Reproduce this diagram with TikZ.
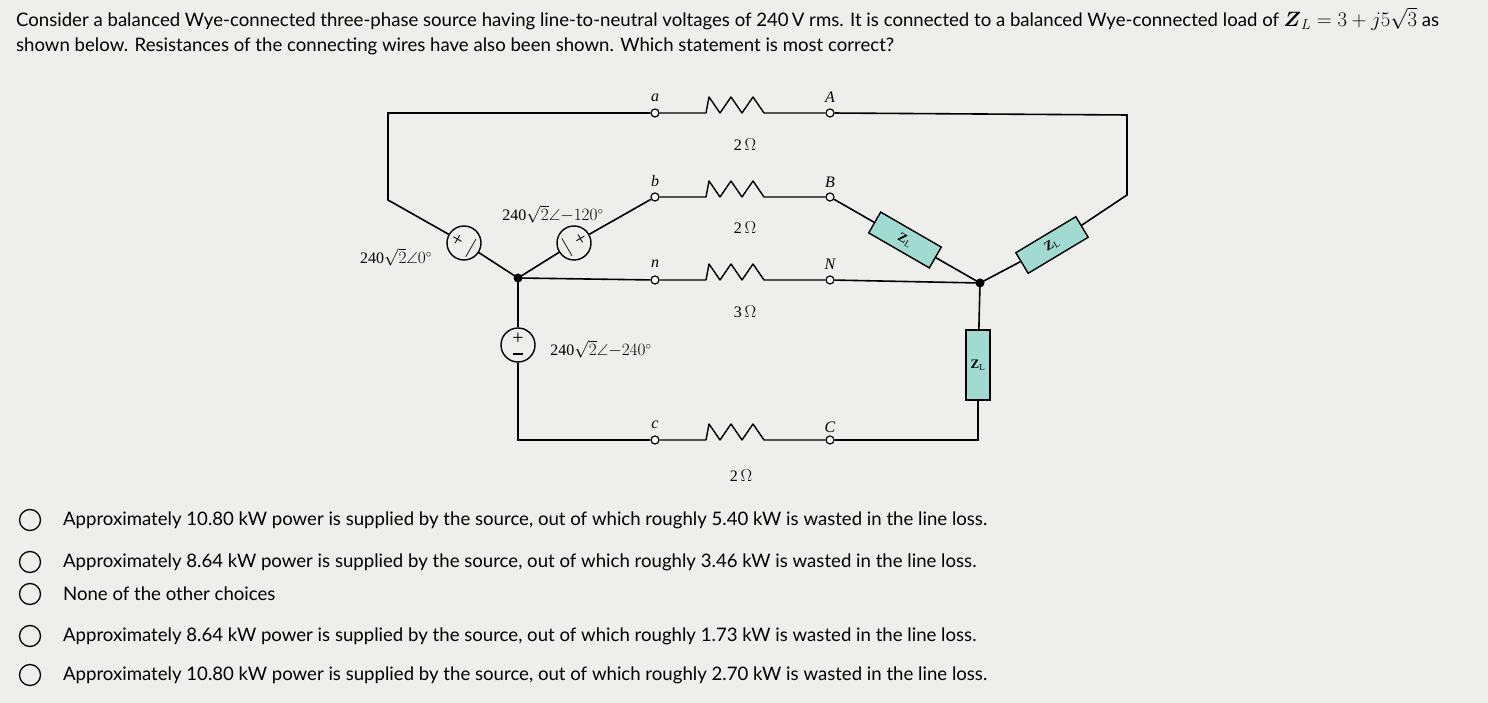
\documentclass[tikz,border=0pt]{standalone}
\usepackage{amsmath,amssymb}
\usepackage{fontspec}
\setmainfont{Liberation Serif}
\newfontfamily\qfont{Lato}
\usetikzlibrary{calc}
\definecolor{bg}{RGB}{238,238,236}
\definecolor{zfill}{RGB}{160,218,208}
\begin{document}
\begin{tikzpicture}[x=1pt,y=1pt,line width=1.6pt,
  term/.style={circle,draw,fill=white,inner sep=0pt,minimum size=8pt,line width=1.2pt},
  src/.style={circle,draw,minimum size=34pt,inner sep=0pt,line width=1.4pt},
  zbox/.style={draw,fill=zfill,minimum width=70pt,minimum height=24pt,inner sep=0pt,line width=1.4pt,font=\fontsize{13}{13}\selectfont\bfseries},
  lab/.style={font=\fontsize{16}{16}\selectfont},
  tl/.style={font=\fontsize{16}{16}\selectfont\itshape},
  sg/.style={font=\fontsize{20}{20}\selectfont,inner sep=0pt},
  q/.style={anchor=west,font=\qfont\fontsize{18.6}{20}\selectfont},
  opt/.style={circle,draw,minimum size=21pt,inner sep=0pt,line width=1.3pt}]
\fill[bg] (0,0) rectangle (1488,703);
\useasboundingbox (0,0) rectangle (1488,703);
% question text
\node[q] (q1) at (12,684) {Consider a balanced Wye-connected three-phase source having line-to-neutral voltages of 240\,V rms. It is connected to a balanced Wye-connected load of {\fontsize{21}{21}\selectfont$\boldsymbol{Z}_L=3+j5\sqrt{3}$} as};
\node[q] (q2) at (12,657) {shown below. Resistances of the connecting wires have also been shown. Which statement is most correct?};
% nodes
\coordinate (S) at (518,425);
\coordinate (TL) at (388,590);
\coordinate (TL2) at (388,503);
\coordinate (TR) at (1127,588);
\coordinate (TR2) at (1127,508);
\coordinate (L) at (980,420);
\coordinate (CL) at (518,263);
\coordinate (CR) at (978,263);
\node[src] (sa) at (464,460) {};
\node[src] (sb) at (574,460) {};
\node[src] (sc) at (518,358) {};
\node[sg,rotate=-30] at ($(sa)+(-7,3)$) {+};
\node[sg,rotate=-30] at ($(sa)+(7,-5)$) {$|$};
\node[sg,rotate=30] at ($(sb)+(7,3)$) {+};
\node[sg,rotate=30] at ($(sb)+(-7,-5)$) {$|$};
\node[sg] at ($(sc)+(0,6)$) {+};
\draw[line width=1.2pt] ($(sc)+(-5,-9)$) -- ($(sc)+(5,-9)$);
\node[term] (a) at (655,590) {};
\node[term] (A) at (830,590) {};
\node[term] (b) at (655,506) {};
\node[term] (B) at (830,506) {};
\node[term] (n) at (655,423) {};
\node[term] (N) at (830,423) {};
\node[term] (c) at (655,263) {};
\node[term] (C) at (830,263) {};
\node[zbox,rotate=31] (za) at (1052,458) {Z$_{\rm L}$};
\node[zbox,rotate=-30] (zb) at (905,463) {Z$_{\rm L}$};
\node[zbox,minimum width=24pt,minimum height=70pt] (zc) at (978,338) {Z$_{\rm L}$};
% wires
\draw (a) -- (TL) -- (TL2) -- (sa) -- (S);
\draw (S) -- (sb) -- (b);
\draw (S) -- (n);
\draw (S) -- (sc) -- (CL) -- (c);
\draw (A) -- (TR) -- (TR2) -- (za) -- (L);
\draw (B) -- (zb) -- (L);
\draw (N) -- (L);
\draw (C) -- (CR) -- (zc) -- (L);
\fill (S) circle (4.5);
\fill (L) circle (4.5);
% resistors
\foreach \p/\q/\y in {a/A/590,b/B/506,n/N/423,c/C/263}{
  \draw[line width=1.4pt,line join=round] (\p) -- (706,\y) -- (709,\y+16) -- (720,\y) -- (731,\y+16) -- (742,\y) -- (753,\y+16) -- (764,\y) -- (\q);
}
% labels
\node[tl] at (655,605) {a};
\node[tl] at (830,606) {A};
\node[tl] at (655,522) {b};
\node[tl] at (830,521) {B};
\node[tl] at (655,439) {n};
\node[tl] at (830,439) {N};
\node[tl] at (655,278) {c};
\node[tl] at (830,276) {C};
\node[lab] at (745,558) {2\,$\Omega$};
\node[lab] at (745,475) {2\,$\Omega$};
\node[lab] at (745,391) {3\,$\Omega$};
\node[lab] at (741,227) {2\,$\Omega$};
\node[lab] at (396,446) {240$\sqrt{2}\angle0^\circ$};
\node[lab] at (553,489) {240$\sqrt{2}\angle{-}120^\circ$};
\node[lab] at (601,354) {240$\sqrt{2}\angle{-}240^\circ$};
% options
\foreach \y/\t [count=\i] in {183/{Approximately 10.80 kW power is supplied by the source, out of which roughly 5.40 kW is wasted in the line loss.},
  141/{Approximately 8.64 kW power is supplied by the source, out of which roughly 3.46 kW is wasted in the line loss.},
  109/{None of the other choices},
  67/{Approximately 8.64 kW power is supplied by the source, out of which roughly 1.73 kW is wasted in the line loss.},
  28/{Approximately 10.80 kW power is supplied by the source, out of which roughly 2.70 kW is wasted in the line loss.}}{
  \node[opt] (o\i) at (30,\y) {};
  \node[q] (t\i) at (59,\y) {\t};
}
\end{tikzpicture}
\end{document}
